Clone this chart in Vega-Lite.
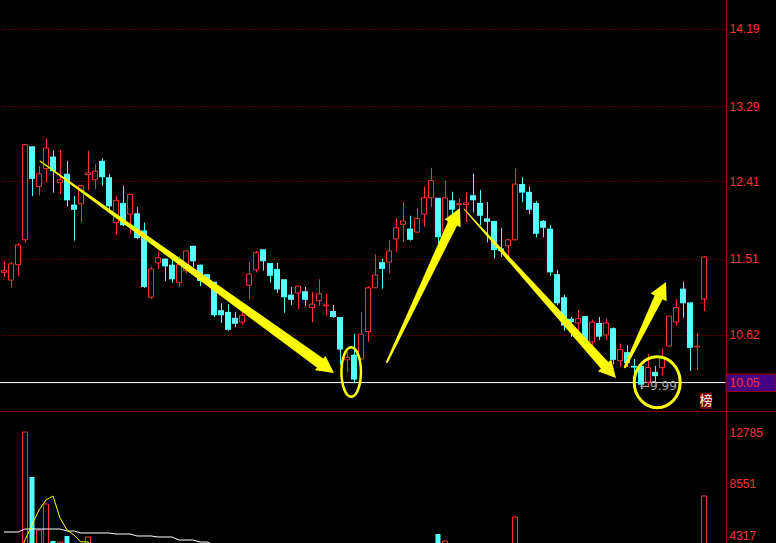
{
"$schema":"https://vega.github.io/schema/vega-lite/v6.json",
"width":726,"height":543,
"autosize":{"type":"none"},
"padding":{"left":0,"top":0,"right":50,"bottom":0},
"background":"#000000",
"config":{"view":{"stroke":null},"scale":{"continuousPadding":0},"axis":{"grid":true,"gridColor":"#a00000","gridDash":[1,2],"gridWidth":1,"ticks":false,"tickSize":0,"domain":true,"domainColor":"#990000","domainWidth":1,"labelColor":"#ff3333","labelFont":"Liberation Sans","labelFontSize":12,"labelPadding":3,"labelAlign":"left","labelBaseline":"middle","labelFlush":false,"labelOverlap":false,"title":null}},
"datasets":{
"k":[
{"i":0,"o":11.35,"h":11.48,"l":11.30,"c":11.37,"m1":4564},
{"i":1,"o":11.26,"h":11.47,"l":11.17,"c":11.45,"m1":4564},
{"i":2,"o":11.44,"h":11.69,"l":11.31,"c":11.67,"m1":4564,"m2":2673},
{"i":3,"o":11.73,"h":12.84,"l":11.70,"c":12.84,"v":12785,"m1":4810,"m2":3906},
{"i":4,"o":12.82,"h":12.82,"l":12.24,"c":12.44,"v":9086,"m1":4810,"m2":5140},
{"i":5,"o":12.35,"h":12.59,"l":12.25,"c":12.50,"v":4729,"m1":4810,"m2":6373},
{"i":6,"o":12.56,"h":12.91,"l":12.40,"c":12.80,"v":6866,"m1":4810,"m2":7195},
{"i":7,"o":12.70,"h":12.77,"l":12.28,"c":12.53,"v":3824,"m1":4810,"m2":7524},
{"i":8,"o":12.40,"h":12.78,"l":12.26,"c":12.43,"v":3742,"m1":4810,"m2":5715},
{"i":9,"o":12.50,"h":12.65,"l":12.12,"c":12.19,"v":4235,"m1":4646,"m2":4729},
{"i":10,"o":12.14,"h":12.24,"l":11.72,"c":12.08,"m1":4646,"m2":4317},
{"i":11,"o":12.15,"h":12.37,"l":11.93,"c":12.36,"m1":4482,"m2":3742},
{"i":12,"o":12.49,"h":12.77,"l":12.31,"c":12.51,"v":4152,"m1":4482,"m2":3742},
{"i":13,"o":12.43,"h":12.61,"l":12.32,"c":12.53,"m1":4482,"m2":3085},
{"i":14,"o":12.65,"h":12.68,"l":12.36,"c":12.46,"m1":4482},
{"i":15,"o":12.46,"h":12.50,"l":12.04,"c":12.12,"m1":4482},
{"i":16,"o":11.93,"h":12.24,"l":11.79,"c":12.19,"m1":4399},
{"i":17,"o":12.16,"h":12.36,"l":11.89,"c":11.90,"m1":4399},
{"i":18,"o":12.03,"h":12.26,"l":11.80,"c":12.26,"m1":4399},
{"i":19,"o":12.04,"h":12.11,"l":11.74,"c":11.75,"m1":4235},
{"i":20,"o":11.84,"h":11.93,"l":11.17,"c":11.18,"m1":4235},
{"i":21,"o":11.06,"h":11.42,"l":11.04,"c":11.39,"m1":4235},
{"i":22,"o":11.46,"h":11.59,"l":11.39,"c":11.52,"m1":4152},
{"i":23,"o":11.51,"h":11.51,"l":11.25,"c":11.42,"m1":4152},
{"i":24,"o":11.44,"h":11.51,"l":11.23,"c":11.27,"m1":4152},
{"i":25,"o":11.23,"h":11.54,"l":11.18,"c":11.44,"m1":3906},
{"i":26,"o":11.37,"h":11.60,"l":11.34,"c":11.60,"m1":3906},
{"i":27,"o":11.66,"h":11.66,"l":11.41,"c":11.48,"m1":3906},
{"i":28,"o":11.44,"h":11.44,"l":11.19,"c":11.25,"m1":3742},
{"i":29,"o":11.33,"h":11.33,"l":11.20,"c":11.24,"m1":3742},
{"i":30,"o":11.24,"h":11.24,"l":10.83,"c":10.85,"m1":3495},
{"i":31,"o":10.91,"h":10.99,"l":10.76,"c":10.85},
{"i":32,"o":10.89,"h":10.98,"l":10.67,"c":10.68},
{"i":33,"o":10.82,"h":10.89,"l":10.71,"c":10.75},
{"i":34,"o":10.77,"h":10.89,"l":10.74,"c":10.85},
{"i":35,"o":11.20,"h":11.47,"l":11.04,"c":11.33},
{"i":36,"o":11.38,"h":11.60,"l":11.35,"c":11.58},
{"i":37,"o":11.62,"h":11.62,"l":11.37,"c":11.48},
{"i":38,"o":11.46,"h":11.46,"l":11.23,"c":11.31},
{"i":39,"o":11.39,"h":11.46,"l":11.11,"c":11.15},
{"i":40,"o":11.27,"h":11.27,"l":10.88,"c":11.06},
{"i":41,"o":11.09,"h":11.18,"l":10.97,"c":11.03},
{"i":42,"o":11.11,"h":11.19,"l":10.92,"c":11.19},
{"i":43,"o":11.13,"h":11.18,"l":10.96,"c":11.03},
{"i":44,"o":10.94,"h":11.12,"l":10.77,"c":10.98},
{"i":45,"o":11.02,"h":11.27,"l":10.96,"c":11.10},
{"i":46,"o":10.96,"h":11.10,"l":10.85,"c":10.97},
{"i":47,"o":10.90,"h":10.97,"l":10.82,"c":10.83},
{"i":48,"o":10.83,"h":10.83,"l":10.27,"c":10.45},
{"i":49,"o":10.33,"h":10.42,"l":10.18,"c":10.36},
{"i":50,"o":10.39,"h":10.63,"l":10.06,"c":10.10},
{"i":51,"o":10.34,"h":10.89,"l":10.33,"c":10.63},
{"i":52,"o":10.66,"h":11.19,"l":10.54,"c":11.17},
{"i":53,"o":11.17,"h":11.56,"l":11.17,"c":11.32},
{"i":54,"o":11.47,"h":11.51,"l":11.16,"c":11.39},
{"i":55,"o":11.47,"h":11.73,"l":11.34,"c":11.60},
{"i":56,"o":11.74,"h":11.98,"l":11.59,"c":11.87},
{"i":57,"o":11.91,"h":12.17,"l":11.70,"c":11.95},
{"i":58,"o":11.86,"h":12.01,"l":11.72,"c":11.73},
{"i":59,"o":11.82,"h":12.10,"l":11.81,"c":11.98},
{"i":60,"o":12.03,"h":12.35,"l":11.88,"c":12.22},
{"i":61,"o":12.22,"h":12.57,"l":12.11,"c":12.42},
{"i":62,"o":12.22,"h":12.22,"l":11.65,"c":11.76,"v":4399},
{"i":63,"o":11.82,"h":12.42,"l":11.79,"c":12.22,"v":3824},
{"i":64,"o":12.19,"h":12.29,"l":11.96,"c":12.08},
{"i":65,"o":12.14,"h":12.21,"l":12.02,"c":12.15},
{"i":66,"o":12.14,"h":12.29,"l":11.94,"c":12.16},
{"i":67,"o":12.25,"h":12.50,"l":12.05,"c":12.19},
{"i":68,"o":12.16,"h":12.31,"l":11.90,"c":12.01},
{"i":69,"o":11.98,"h":12.17,"l":11.70,"c":11.94},
{"i":70,"o":11.95,"h":11.95,"l":11.51,"c":11.61},
{"i":71,"o":11.63,"h":11.87,"l":11.53,"c":11.60},
{"i":72,"o":11.66,"h":11.74,"l":11.53,"c":11.73},
{"i":73,"o":11.73,"h":12.56,"l":11.72,"c":12.38,"v":5797},
{"i":74,"o":12.38,"h":12.46,"l":12.17,"c":12.28},
{"i":75,"o":12.29,"h":12.35,"l":12.03,"c":12.08},
{"i":76,"o":12.16,"h":12.18,"l":11.76,"c":11.80},
{"i":77,"o":11.95,"h":11.96,"l":11.76,"c":11.87},
{"i":78,"o":11.86,"h":11.90,"l":11.31,"c":11.35},
{"i":79,"o":11.33,"h":11.38,"l":10.97,"c":10.99},
{"i":80,"o":11.06,"h":11.09,"l":10.67,"c":10.73},
{"i":81,"o":10.81,"h":10.83,"l":10.60,"c":10.77},
{"i":82,"o":10.76,"h":10.91,"l":10.62,"c":10.81},
{"i":83,"o":10.84,"h":10.84,"l":10.50,"c":10.56},
{"i":84,"o":10.54,"h":10.80,"l":10.48,"c":10.77},
{"i":85,"o":10.76,"h":10.83,"l":10.56,"c":10.60},
{"i":86,"o":10.62,"h":10.81,"l":10.56,"c":10.76},
{"i":87,"o":10.70,"h":10.71,"l":10.28,"c":10.33},
{"i":88,"o":10.32,"h":10.52,"l":10.25,"c":10.45},
{"i":89,"o":10.42,"h":10.50,"l":10.25,"c":10.29},
{"i":90,"o":10.26,"h":10.34,"l":10.10,"c":10.24},
{"i":91,"o":10.26,"h":10.26,"l":9.99,"c":10.04},
{"i":92,"o":10.07,"h":10.40,"l":10.01,"c":10.24},
{"i":93,"o":10.19,"h":10.26,"l":10.07,"c":10.14},
{"i":94,"o":10.24,"h":10.46,"l":10.15,"c":10.36},
{"i":95,"o":10.49,"h":10.84,"l":10.48,"c":10.84},
{"i":96,"o":10.77,"h":11.04,"l":10.73,"c":10.94},
{"i":97,"o":11.16,"h":11.24,"l":10.82,"c":10.99},
{"i":98,"o":11.00,"h":11.00,"l":10.20,"c":10.47},
{"i":99,"o":10.48,"h":10.64,"l":10.21,"c":10.49},
{"i":100,"o":11.04,"h":11.54,"l":10.90,"c":11.53,"v":7524}
],
"arrows":[
{"a":1,"i":5.143,"p":12.649,"t":0},{"a":1,"i":45.4,"p":10.279,"t":1},
{"a":2,"i":54.714,"p":10.305,"t":0.1},{"a":2,"i":64.214,"p":11.943,"t":0.9},
{"a":3,"i":65.714,"p":12.089,"t":0},{"a":3,"i":86.0,"p":10.248,"t":0.9},
{"a":4,"i":88.714,"p":10.247,"t":0.15},{"a":4,"i":93.643,"p":11.081,"t":0.8}
],
"heads":[
{"a":1,"i":46.157,"p":10.235},{"a":2,"i":64.614,"p":12.011},{"a":3,"i":86.614,"p":10.192},{"a":4,"i":94.043,"p":11.148}
],
"rings":[{"a":1,"i":49.6,"p":10.189},{"a":2,"i":93.314,"p":10.070}],
"notes":[{"i":91,"p":9.99,"t":"←9.99"}],
"badge":[{"i":99.43,"i2":101.14,"p":9.944,"p2":9.757,"ic":100.29,"pc":9.85,"t":"榜"}],
"box":[{"i":103.143,"i2":110.3,"p":10.163,"p2":9.961,"it":103.64,"pt":10.065,"t":"10.05"}],
"sep":[{"i":-0.571429,"i2":110.3,"p":9.728}]
},
"layer":[
{"layer":[
 {"data":{"values":[{"p":10.065}]},"mark":{"type":"rule","color":"#ffffff","strokeWidth":1},
  "encoding":{"y":{"field":"p","type":"quantitative","scale":{"domain":[8.1946,14.526],"nice":false,"zero":false,"padding":0},"axis":{"orient":"right","values":[10.62,11.51,12.41,13.29,14.19],"format":".2f"}}}},
 {"data":{"name":"k"},"mark":{"type":"rule","xOffset":0.5,"strokeWidth":1},
  "encoding":{"x":{"field":"i","type":"quantitative","scale":{"domain":[-0.571429,103.142857],"nice":false,"zero":false,"padding":0},"axis":null},
   "y":{"field":"l","type":"quantitative"},"y2":{"field":"h"},
   "stroke":{"condition":{"test":"datum.c >= datum.o","value":"#ff3232"},"value":"#54ffff"}}},
 {"data":{"name":"k"},"transform":[{"filter":"datum.c >= datum.o"}],"mark":{"type":"bar","width":5,"fill":"#000000","stroke":"#ff3232","strokeWidth":1},
  "encoding":{"x":{"field":"i","type":"quantitative"},"y":{"field":"o","type":"quantitative"},"y2":{"field":"c"}}},
 {"data":{"name":"k"},"transform":[{"filter":"datum.c < datum.o"}],"mark":{"type":"bar","width":6,"fill":"#54ffff","strokeWidth":0},
  "encoding":{"x":{"field":"i","type":"quantitative"},"y":{"field":"o","type":"quantitative"},"y2":{"field":"c"}}},
 {"data":{"name":"arrows"},"mark":{"type":"trail","color":"#ffff00"},
  "encoding":{"x":{"field":"i","type":"quantitative"},"y":{"field":"p","type":"quantitative"},"detail":{"field":"a","type":"nominal"},"order":{"field":"t"},
   "size":{"field":"t","type":"quantitative","scale":{"domain":[0,1],"range":[1,11]},"legend":null}}},
 {"data":{"name":"heads"},"transform":[{"filter":"datum.a == 1"}],"mark":{"type":"point","shape":"M0,-1L1.05,1L-1.05,1Z","size":289,"filled":true,"color":"#ffff00","opacity":1,"strokeWidth":0,"angle":126},
  "encoding":{"x":{"field":"i","type":"quantitative"},"y":{"field":"p","type":"quantitative"}}},
 {"data":{"name":"heads"},"transform":[{"filter":"datum.a == 2"}],"mark":{"type":"point","shape":"M0,-1L1.05,1L-1.05,1Z","size":289,"filled":true,"color":"#ffff00","opacity":1,"strokeWidth":0,"angle":25.6},
  "encoding":{"x":{"field":"i","type":"quantitative"},"y":{"field":"p","type":"quantitative"}}},
 {"data":{"name":"heads"},"transform":[{"filter":"datum.a == 3"}],"mark":{"type":"point","shape":"M0,-1L1.05,1L-1.05,1Z","size":289,"filled":true,"color":"#ffff00","opacity":1,"strokeWidth":0,"angle":138},
  "encoding":{"x":{"field":"i","type":"quantitative"},"y":{"field":"p","type":"quantitative"}}},
 {"data":{"name":"heads"},"transform":[{"filter":"datum.a == 4"}],"mark":{"type":"point","shape":"M0,-1L1.05,1L-1.05,1Z","size":289,"filled":true,"color":"#ffff00","opacity":1,"strokeWidth":0,"angle":25.7},
  "encoding":{"x":{"field":"i","type":"quantitative"},"y":{"field":"p","type":"quantitative"}}},
 {"data":{"name":"rings"},"transform":[{"filter":"datum.a == 1"}],"mark":{"type":"point","shape":"M0.394,0C0.394,0.552 0.218,1 0,1C-0.218,1 -0.394,0.552 -0.394,0C-0.394,-0.552 -0.218,-1 0,-1C0.218,-1 0.394,-0.552 0.394,0Z","size":2450,"filled":false,"color":"#ffff00","strokeWidth":2.5,"opacity":1},
  "encoding":{"x":{"field":"i","type":"quantitative"},"y":{"field":"p","type":"quantitative"}}},
 {"data":{"name":"rings"},"transform":[{"filter":"datum.a == 2"}],"mark":{"type":"point","shape":"M0.902,0C0.902,0.552 0.498,1 0,1C-0.498,1 -0.902,0.552 -0.902,0C-0.902,-0.552 -0.498,-1 0,-1C0.498,-1 0.902,-0.552 0.902,0Z","size":2601,"filled":false,"color":"#ffff00","strokeWidth":3,"opacity":1},
  "encoding":{"x":{"field":"i","type":"quantitative"},"y":{"field":"p","type":"quantitative"}}},
 {"data":{"name":"notes"},"mark":{"type":"text","align":"left","baseline":"middle","dx":-1,"dy":-3,"color":"#a8a8a8","font":"DejaVu Sans","fontSize":12},
  "encoding":{"x":{"field":"i","type":"quantitative"},"y":{"field":"p","type":"quantitative"},"text":{"field":"t"}}},
 {"data":{"name":"badge"},"mark":{"type":"rect","fill":"#7a0000"},
  "encoding":{"x":{"field":"i","type":"quantitative"},"x2":{"field":"i2"},"y":{"field":"p","type":"quantitative"},"y2":{"field":"p2"}}},
 {"data":{"name":"badge"},"mark":{"type":"text","align":"center","baseline":"middle","color":"#ffffff","font":"Noto Sans CJK SC","fontSize":13},
  "encoding":{"x":{"field":"ic","type":"quantitative"},"y":{"field":"pc","type":"quantitative"},"text":{"field":"t"}}},
 {"data":{"name":"box"},"mark":{"type":"rect","fill":"#460082","stroke":"#990000","strokeWidth":1},
  "encoding":{"x":{"field":"i","type":"quantitative"},"x2":{"field":"i2"},"y":{"field":"p","type":"quantitative"},"y2":{"field":"p2"}}},
 {"data":{"name":"box"},"mark":{"type":"text","align":"left","baseline":"middle","color":"#ff3333","font":"Liberation Sans","fontSize":12},
  "encoding":{"x":{"field":"it","type":"quantitative"},"y":{"field":"pt","type":"quantitative"},"text":{"field":"t"}}},
 {"data":{"name":"sep"},"mark":{"type":"rule","color":"#990000","strokeWidth":1},
  "encoding":{"x":{"field":"i","type":"quantitative"},"x2":{"field":"i2"},"y":{"field":"p","type":"quantitative"}}}
]},
{"layer":[
 {"data":{"name":"k"},"transform":[{"filter":"isValid(datum.v) && datum.c >= datum.o"}],"mark":{"type":"bar","width":5,"fill":"#000000","stroke":"#ff3232","strokeWidth":1,"clip":true},
  "encoding":{"x":{"field":"i","type":"quantitative","scale":{"domain":[-0.571429,103.142857],"nice":false,"zero":false,"padding":0},"axis":null},
   "y":{"field":"v","type":"quantitative","scale":{"domain":[3659.4,48301.6],"nice":false,"zero":false,"padding":0},"axis":{"orient":"right","values":[4317,8551,12785],"format":"d"}}}},
 {"data":{"name":"k"},"transform":[{"filter":"isValid(datum.v) && datum.c < datum.o"}],"mark":{"type":"bar","width":5,"fill":"#54ffff","strokeWidth":0,"clip":true},
  "encoding":{"x":{"field":"i","type":"quantitative"},"y":{"field":"v","type":"quantitative"}}},
 {"data":{"name":"k"},"transform":[{"filter":"isValid(datum.m1)"}],"mark":{"type":"line","color":"#ffffff","strokeWidth":1,"clip":true},
  "encoding":{"x":{"field":"i","type":"quantitative"},"y":{"field":"m1","type":"quantitative"}}},
 {"data":{"name":"k"},"transform":[{"filter":"isValid(datum.m2)"}],"mark":{"type":"line","color":"#ffff00","strokeWidth":1,"clip":true},
  "encoding":{"x":{"field":"i","type":"quantitative"},"y":{"field":"m2","type":"quantitative"}}}
]}
],
"resolve":{"scale":{"y":"independent"},"axis":{"y":"independent"}}
}
